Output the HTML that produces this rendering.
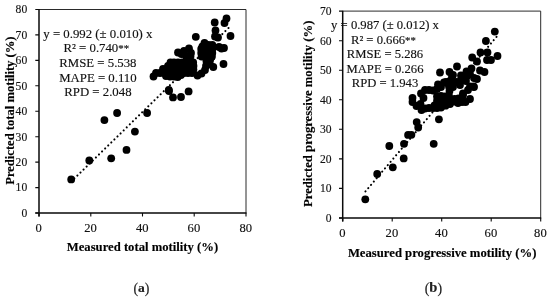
<!DOCTYPE html>
<html><head><meta charset="utf-8"><title>Figure</title>
<style>
html,body{margin:0;padding:0;background:#fff;}
body{width:550px;height:300px;overflow:hidden;}
svg{display:block;font-family:"Liberation Serif",serif;font-size:12.6px;fill:#111;}
text{stroke:#111;stroke-width:0.15}
.b{font-weight:bold;fill:#000}
.ax{stroke:#0a0a0a;stroke-width:1.5;fill:none}
.fr{stroke:#2a2a2a;stroke-width:1;fill:none}
.tk{stroke:#0a0a0a;stroke-width:1.1;fill:none}
.tr{stroke:#000;stroke-width:2.1;stroke-dasharray:0.01 4.3;stroke-linecap:round;fill:none}
.pt{fill:#000}
</style></head><body>
<svg width="550" height="300" viewBox="0 0 550 300">
<rect width="550" height="300" fill="#fff"/>
<path class="fr" d="M39.0 9.5H246.0V213.0"/>
<path class="tr" d="M228.5 28.0L71.2 181.6"/>
<g class="pt"><circle cx="226.5" cy="18.5" r="3.9"/>
<circle cx="224.5" cy="23.0" r="3.9"/>
<circle cx="214.7" cy="22.5" r="3.9"/>
<circle cx="215.5" cy="30.5" r="3.9"/>
<circle cx="215.0" cy="36.5" r="3.9"/>
<circle cx="218.0" cy="37.5" r="3.9"/>
<circle cx="230.5" cy="36.0" r="3.9"/>
<circle cx="195.8" cy="36.8" r="3.9"/>
<circle cx="223.5" cy="64.0" r="3.9"/>
<circle cx="213.3" cy="67.0" r="3.9"/>
<circle cx="169.0" cy="91.0" r="3.9"/>
<circle cx="173.0" cy="97.4" r="3.9"/>
<circle cx="181.0" cy="97.0" r="3.9"/>
<circle cx="188.6" cy="91.4" r="3.9"/>
<circle cx="168.8" cy="90.0" r="3.9"/>
<circle cx="104.4" cy="120.1" r="3.9"/>
<circle cx="117.1" cy="113.0" r="3.9"/>
<circle cx="147.1" cy="113.0" r="3.9"/>
<circle cx="134.9" cy="131.6" r="3.9"/>
<circle cx="126.5" cy="149.9" r="3.9"/>
<circle cx="111.2" cy="158.3" r="3.9"/>
<circle cx="89.3" cy="160.5" r="3.9"/>
<circle cx="71.2" cy="179.4" r="3.9"/>
<circle cx="224.0" cy="48.0" r="3.9"/>
<circle cx="219.0" cy="47.0" r="3.9"/>
<circle cx="221.5" cy="48.5" r="3.9"/>
<circle cx="189.0" cy="48.5" r="3.9"/>
<circle cx="184.0" cy="51.0" r="3.9"/>
<circle cx="191.0" cy="53.0" r="3.9"/>
<circle cx="186.0" cy="56.0" r="3.9"/>
<circle cx="178.0" cy="52.5" r="3.9"/>
<circle cx="181.5" cy="54.0" r="3.9"/>
<circle cx="190.5" cy="56.5" r="3.9"/>
<circle cx="204.5" cy="43.0" r="3.9"/>
<circle cx="202.4" cy="46.3" r="3.9"/>
<circle cx="201.2" cy="49.0" r="3.9"/>
<circle cx="201.2" cy="53.0" r="3.9"/>
<circle cx="201.6" cy="56.6" r="3.9"/>
<circle cx="205.0" cy="45.0" r="3.9"/>
<circle cx="205.0" cy="49.0" r="3.9"/>
<circle cx="205.0" cy="53.0" r="3.9"/>
<circle cx="205.0" cy="57.0" r="3.9"/>
<circle cx="208.5" cy="45.0" r="3.9"/>
<circle cx="208.5" cy="49.0" r="3.9"/>
<circle cx="208.5" cy="53.0" r="3.9"/>
<circle cx="208.5" cy="57.0" r="3.9"/>
<circle cx="212.3" cy="45.0" r="3.9"/>
<circle cx="212.3" cy="49.0" r="3.9"/>
<circle cx="212.3" cy="53.0" r="3.9"/>
<circle cx="211.8" cy="56.6" r="3.9"/>
<circle cx="206.5" cy="61.5" r="3.9"/>
<circle cx="206.0" cy="66.0" r="3.9"/>
<circle cx="205.0" cy="70.0" r="3.9"/>
<circle cx="210.0" cy="60.5" r="3.9"/>
<circle cx="211.5" cy="57.0" r="3.9"/>
<circle cx="209.5" cy="64.0" r="3.9"/>
<circle cx="170.5" cy="62.5" r="3.9"/>
<circle cx="174.0" cy="62.5" r="3.9"/>
<circle cx="178.0" cy="62.5" r="3.9"/>
<circle cx="182.0" cy="62.5" r="3.9"/>
<circle cx="186.0" cy="62.5" r="3.9"/>
<circle cx="190.0" cy="62.5" r="3.9"/>
<circle cx="193.2" cy="62.5" r="3.9"/>
<circle cx="168.0" cy="66.0" r="3.9"/>
<circle cx="172.0" cy="66.0" r="3.9"/>
<circle cx="176.0" cy="66.0" r="3.9"/>
<circle cx="180.0" cy="66.0" r="3.9"/>
<circle cx="184.0" cy="66.0" r="3.9"/>
<circle cx="188.0" cy="66.0" r="3.9"/>
<circle cx="192.0" cy="66.0" r="3.9"/>
<circle cx="193.5" cy="66.0" r="3.9"/>
<circle cx="166.0" cy="69.5" r="3.9"/>
<circle cx="170.0" cy="69.5" r="3.9"/>
<circle cx="174.0" cy="69.5" r="3.9"/>
<circle cx="178.0" cy="69.5" r="3.9"/>
<circle cx="182.0" cy="69.5" r="3.9"/>
<circle cx="186.0" cy="69.5" r="3.9"/>
<circle cx="190.0" cy="69.5" r="3.9"/>
<circle cx="193.4" cy="69.5" r="3.9"/>
<circle cx="160.0" cy="73.0" r="3.9"/>
<circle cx="164.0" cy="73.0" r="3.9"/>
<circle cx="168.0" cy="73.0" r="3.9"/>
<circle cx="172.0" cy="73.0" r="3.9"/>
<circle cx="176.0" cy="73.0" r="3.9"/>
<circle cx="180.0" cy="73.0" r="3.9"/>
<circle cx="184.0" cy="73.0" r="3.9"/>
<circle cx="188.0" cy="73.0" r="3.9"/>
<circle cx="192.0" cy="73.0" r="3.9"/>
<circle cx="153.5" cy="76.5" r="3.9"/>
<circle cx="156.0" cy="73.0" r="3.9"/>
<circle cx="163.0" cy="69.0" r="3.9"/>
<circle cx="166.0" cy="76.0" r="3.9"/>
<circle cx="170.0" cy="76.5" r="3.9"/>
<circle cx="174.0" cy="76.5" r="3.9"/>
<circle cx="177.7" cy="77.0" r="3.9"/>
<circle cx="181.0" cy="75.0" r="3.9"/>
<circle cx="197.5" cy="75.5" r="3.9"/>
<circle cx="201.5" cy="73.5" r="3.9"/></g>
<path class="ax" d="M39.0 9.1V216.6M35.3 213.0H246.5"/>
<path class="tk" d="M35.3 213.0H39.0M35.3 187.6H39.0M35.3 162.1H39.0M35.3 136.7H39.0M35.3 111.2H39.0M35.3 85.8H39.0M35.3 60.4H39.0M35.3 34.9H39.0M35.3 9.5H39.0M39.0 213.0V216.6M90.8 213.0V216.6M142.5 213.0V216.6M194.2 213.0V216.6M246.0 213.0V216.6"/>
<text transform="translate(27.2 216.8) scale(0.92 1.03)" text-anchor="end">0</text>
<text transform="translate(27.2 191.4) scale(0.92 1.03)" text-anchor="end">10</text>
<text transform="translate(27.2 165.9) scale(0.92 1.03)" text-anchor="end">20</text>
<text transform="translate(27.2 140.5) scale(0.92 1.03)" text-anchor="end">30</text>
<text transform="translate(27.2 115.0) scale(0.92 1.03)" text-anchor="end">40</text>
<text transform="translate(27.2 89.6) scale(0.92 1.03)" text-anchor="end">50</text>
<text transform="translate(27.2 64.2) scale(0.92 1.03)" text-anchor="end">60</text>
<text transform="translate(27.2 38.7) scale(0.92 1.03)" text-anchor="end">70</text>
<text transform="translate(27.2 13.3) scale(0.92 1.03)" text-anchor="end">80</text>
<text transform="translate(38.7 232) scale(1 1.04)" text-anchor="middle">0</text>
<text transform="translate(90.5 232) scale(1 1.04)" text-anchor="middle">20</text>
<text transform="translate(142.2 232) scale(1 1.04)" text-anchor="middle">40</text>
<text transform="translate(193.9 232) scale(1 1.04)" text-anchor="middle">60</text>
<text transform="translate(245.7 232) scale(1 1.04)" text-anchor="middle">80</text>
<text transform="translate(97.9 37.9) scale(0.985 1)" font-size="13.0" text-anchor="middle">y = 0.992 (± 0.010) x</text>
<text transform="translate(96.30000000000001 52.4) scale(0.985 1)" font-size="13.0" text-anchor="middle">R² = 0.740<tspan font-size="11">**</tspan></text>
<text transform="translate(97.9 67.0) scale(0.985 1)" font-size="13.0" text-anchor="middle">RMSE = 5.538</text>
<text transform="translate(97.9 81.5) scale(0.985 1)" font-size="13.0" text-anchor="middle">MAPE = 0.110</text>
<text transform="translate(97.9 96.0) scale(0.985 1)" font-size="13.0" text-anchor="middle">RPD = 2.048</text>
<text class="b" x="66.8" y="250.6" textLength="151.3" lengthAdjust="spacingAndGlyphs">Measured total motility (%)</text>
<text class="b" transform="translate(14.3 184.8) rotate(-90)" textLength="148.3" lengthAdjust="spacingAndGlyphs">Predicted total motility (%)</text>
<path class="fr" d="M342.7 11.1H540.7V218.0"/>
<path class="tr" d="M496.5 36.9L365.3 191.6"/>
<g class="pt"><circle cx="494.8" cy="31.6" r="3.9"/>
<circle cx="485.9" cy="41.0" r="3.9"/>
<circle cx="480.5" cy="52.5" r="3.9"/>
<circle cx="487.5" cy="52.5" r="3.9"/>
<circle cx="497.5" cy="56.0" r="3.9"/>
<circle cx="472.2" cy="57.5" r="3.9"/>
<circle cx="477.0" cy="61.5" r="3.9"/>
<circle cx="487.0" cy="60.0" r="3.9"/>
<circle cx="491.0" cy="60.0" r="3.9"/>
<circle cx="457.0" cy="66.5" r="3.9"/>
<circle cx="471.5" cy="68.5" r="3.9"/>
<circle cx="466.5" cy="71.5" r="3.9"/>
<circle cx="480.0" cy="70.5" r="3.9"/>
<circle cx="484.5" cy="72.0" r="3.9"/>
<circle cx="449.5" cy="72.0" r="3.9"/>
<circle cx="440.0" cy="72.5" r="3.9"/>
<circle cx="453.0" cy="75.0" r="3.9"/>
<circle cx="452.0" cy="77.0" r="3.9"/>
<circle cx="461.0" cy="75.5" r="3.9"/>
<circle cx="462.0" cy="77.0" r="3.9"/>
<circle cx="461.0" cy="80.0" r="3.9"/>
<circle cx="474.0" cy="78.0" r="3.9"/>
<circle cx="477.0" cy="79.0" r="3.9"/>
<circle cx="473.5" cy="86.5" r="3.9"/>
<circle cx="470.0" cy="86.5" r="3.9"/>
<circle cx="468.0" cy="90.0" r="3.9"/>
<circle cx="463.0" cy="93.5" r="3.9"/>
<circle cx="446.0" cy="82.0" r="3.9"/>
<circle cx="444.0" cy="82.5" r="3.9"/>
<circle cx="438.0" cy="84.5" r="3.9"/>
<circle cx="453.0" cy="87.0" r="3.9"/>
<circle cx="460.0" cy="85.0" r="3.9"/>
<circle cx="449.0" cy="86.5" r="3.9"/>
<circle cx="450.0" cy="81.0" r="3.9"/>
<circle cx="456.5" cy="82.0" r="3.9"/>
<circle cx="466.0" cy="81.0" r="3.9"/>
<circle cx="467.0" cy="76.0" r="3.9"/>
<circle cx="470.0" cy="74.0" r="3.9"/>
<circle cx="425.0" cy="90.0" r="3.9"/>
<circle cx="423.5" cy="98.0" r="3.9"/>
<circle cx="412.5" cy="98.0" r="3.9"/>
<circle cx="412.5" cy="102.0" r="3.9"/>
<circle cx="416.5" cy="106.0" r="3.9"/>
<circle cx="421.5" cy="110.0" r="3.9"/>
<circle cx="420.5" cy="104.0" r="3.9"/>
<circle cx="421.0" cy="93.5" r="3.9"/>
<circle cx="470.0" cy="99.0" r="3.9"/>
<circle cx="465.5" cy="102.0" r="3.9"/>
<circle cx="463.0" cy="95.0" r="3.9"/>
<circle cx="454.5" cy="101.5" r="3.9"/>
<circle cx="454.5" cy="99.0" r="3.9"/>
<circle cx="445.5" cy="105.7" r="3.9"/>
<circle cx="474.0" cy="87.0" r="3.9"/>
<circle cx="429.0" cy="90.0" r="3.9"/>
<circle cx="433.0" cy="90.5" r="3.9"/>
<circle cx="437.0" cy="89.0" r="3.9"/>
<circle cx="441.0" cy="87.0" r="3.9"/>
<circle cx="437.0" cy="96.5" r="3.9"/>
<circle cx="441.0" cy="96.0" r="3.9"/>
<circle cx="445.0" cy="96.5" r="3.9"/>
<circle cx="449.0" cy="96.0" r="3.9"/>
<circle cx="437.0" cy="101.0" r="3.9"/>
<circle cx="441.0" cy="100.0" r="3.9"/>
<circle cx="445.0" cy="100.5" r="3.9"/>
<circle cx="449.0" cy="100.0" r="3.9"/>
<circle cx="458.5" cy="98.5" r="3.9"/>
<circle cx="461.5" cy="99.0" r="3.9"/>
<circle cx="434.5" cy="105.5" r="3.9"/>
<circle cx="438.0" cy="104.5" r="3.9"/>
<circle cx="442.0" cy="104.0" r="3.9"/>
<circle cx="450.0" cy="104.0" r="3.9"/>
<circle cx="458.0" cy="103.0" r="3.9"/>
<circle cx="462.0" cy="102.0" r="3.9"/>
<circle cx="425.0" cy="108.5" r="3.9"/>
<circle cx="429.0" cy="108.0" r="3.9"/>
<circle cx="433.0" cy="108.0" r="3.9"/>
<circle cx="437.0" cy="108.0" r="3.9"/>
<circle cx="441.0" cy="107.5" r="3.9"/>
<circle cx="449.5" cy="91.0" r="3.9"/>
<circle cx="438.9" cy="119.3" r="3.9"/>
<circle cx="416.7" cy="122.1" r="3.9"/>
<circle cx="418.2" cy="127.5" r="3.9"/>
<circle cx="411.4" cy="134.8" r="3.9"/>
<circle cx="408.1" cy="134.9" r="3.9"/>
<circle cx="404.0" cy="143.8" r="3.9"/>
<circle cx="389.3" cy="146.0" r="3.9"/>
<circle cx="433.7" cy="143.8" r="3.9"/>
<circle cx="403.7" cy="158.4" r="3.9"/>
<circle cx="392.8" cy="167.3" r="3.9"/>
<circle cx="377.2" cy="174.0" r="3.9"/>
<circle cx="365.3" cy="199.3" r="3.9"/></g>
<path class="ax" d="M342.7 10.7V221.6M339.0 218.0H541.2"/>
<path class="tk" d="M339.0 218.0H342.7M339.0 188.4H342.7M339.0 158.9H342.7M339.0 129.3H342.7M339.0 99.8H342.7M339.0 70.2H342.7M339.0 40.7H342.7M339.0 11.1H342.7M342.7 218.0V221.6M392.2 218.0V221.6M441.7 218.0V221.6M491.2 218.0V221.6M540.7 218.0V221.6"/>
<text transform="translate(331.6 221.9) scale(0.92 1.03)" text-anchor="end">0</text>
<text transform="translate(331.6 192.3) scale(0.92 1.03)" text-anchor="end">10</text>
<text transform="translate(331.6 162.8) scale(0.92 1.03)" text-anchor="end">20</text>
<text transform="translate(331.6 133.2) scale(0.92 1.03)" text-anchor="end">30</text>
<text transform="translate(331.6 103.7) scale(0.92 1.03)" text-anchor="end">40</text>
<text transform="translate(331.6 74.1) scale(0.92 1.03)" text-anchor="end">50</text>
<text transform="translate(331.6 44.6) scale(0.92 1.03)" text-anchor="end">60</text>
<text transform="translate(331.6 15.0) scale(0.92 1.03)" text-anchor="end">70</text>
<text transform="translate(342.4 236.7) scale(1 1.04)" text-anchor="middle">0</text>
<text transform="translate(391.9 236.7) scale(1 1.04)" text-anchor="middle">20</text>
<text transform="translate(441.4 236.7) scale(1 1.04)" text-anchor="middle">40</text>
<text transform="translate(490.9 236.7) scale(1 1.04)" text-anchor="middle">60</text>
<text transform="translate(540.4 236.7) scale(1 1.04)" text-anchor="middle">80</text>
<text transform="translate(385.0 29.3) scale(0.98 1)" font-size="12.9" text-anchor="middle">y = 0.987 (± 0.012) x</text>
<text transform="translate(383.4 43.8) scale(0.98 1)" font-size="12.9" text-anchor="middle">R² = 0.666<tspan font-size="11">**</tspan></text>
<text transform="translate(385.0 58.4) scale(0.98 1)" font-size="12.9" text-anchor="middle">RMSE = 5.286</text>
<text transform="translate(385.0 72.9) scale(0.98 1)" font-size="12.9" text-anchor="middle">MAPE = 0.266</text>
<text transform="translate(385.0 87.4) scale(0.98 1)" font-size="12.9" text-anchor="middle">RPD = 1.943</text>
<text class="b" x="347.9" y="256.5" textLength="188.6" lengthAdjust="spacingAndGlyphs">Measured progressive motility (%)</text>
<text class="b" transform="translate(312.2 207) rotate(-90)" textLength="186.4" lengthAdjust="spacingAndGlyphs">Predicted progressive motility (%)</text>
<text x="141.4" y="291.8" text-anchor="middle" font-size="13.5" fill="#222" stroke-width="0.1"><tspan font-size="13.9" dy="0.7">(</tspan><tspan font-weight="bold" dy="-0.7">a</tspan><tspan font-size="13.9" dy="0.7">)</tspan></text>
<text x="433.4" y="291.8" text-anchor="middle" font-size="13.5" fill="#222" stroke-width="0.1"><tspan font-size="13.9" dy="0.7">(</tspan><tspan font-weight="bold" dy="-0.7" font-size="14.5">b</tspan><tspan font-size="13.9" dy="0.7">)</tspan></text>
</svg></body></html>
